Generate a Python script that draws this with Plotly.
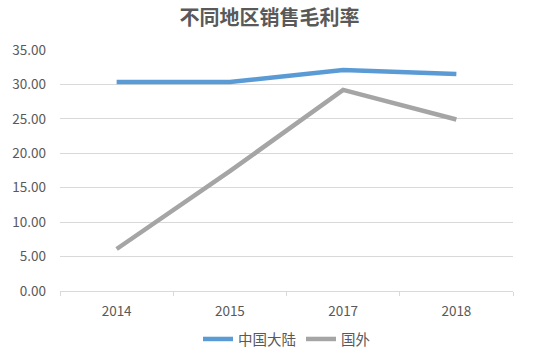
import plotly.graph_objects as go

years = ["2014", "2015", "2017", "2018"]
mainland = [30.35, 30.35, 32.1, 31.5]
overseas = [6.1, 17.4, 29.2, 24.9]

font_fam = "Noto Sans CJK SC, Microsoft YaHei, sans-serif"

fig = go.Figure()
fig.add_trace(go.Scatter(x=years, y=mainland, mode="lines", name="中国大陆",
                         line=dict(color="#5B9BD5", width=4.5)))
fig.add_trace(go.Scatter(x=years, y=overseas, mode="lines", name="国外",
                         line=dict(color="#A5A5A5", width=4.5)))

fig.update_layout(
    width=539, height=363,
    margin=dict(l=60, r=26, t=50, b=72, autoexpand=False),
    paper_bgcolor="white", plot_bgcolor="white",
    title=dict(text="<b>不同地区销售毛利率</b>", x=0.5, xanchor="center", y=0.95, yanchor="middle",
               font=dict(family=font_fam, size=20, color="#595959")),
    font=dict(family=font_fam, color="#595959", size=13),
    showlegend=True,
    legend=dict(orientation="h", x=0.5, xanchor="center", yref="container", y=0.066, yanchor="middle",
                font=dict(size=14.5, color="#595959"), itemwidth=30, tracegroupgap=0),
    xaxis=dict(type="category", range=[-0.5, 3.5], showgrid=False, showline=True,
               linecolor="#D9D9D9", linewidth=1,
               ticks="outside", tickson="boundaries", ticklen=4, tickcolor="#D9D9D9",
               ticklabelstandoff=8,
               tickfont=dict(size=13.5, color="#595959"), fixedrange=True),
    yaxis=dict(range=[0, 35], dtick=5, tickformat=".2f", showgrid=True, gridcolor="#D9D9D9",
               gridwidth=1, zeroline=False, showline=False, ticks="",
               ticklabelstandoff=13, automargin=False,
               tickfont=dict(size=13.5, color="#595959"), fixedrange=True),
)

fig.write_html("out.html")
